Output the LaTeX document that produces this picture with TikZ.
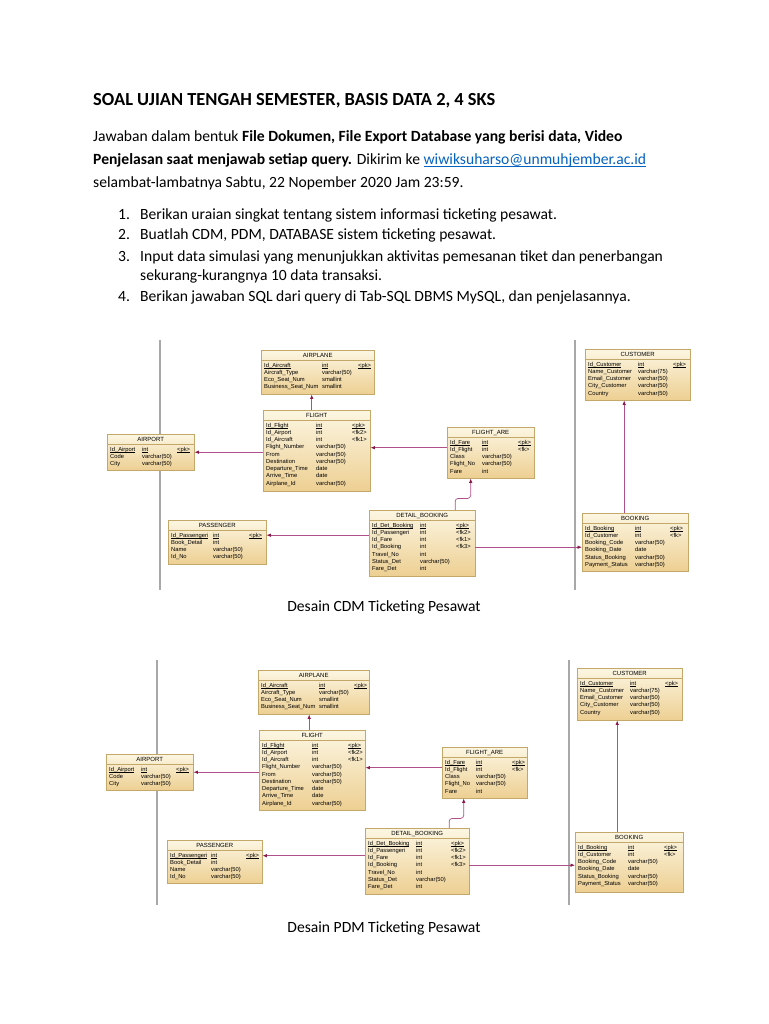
\documentclass[tikz,border=0pt]{standalone}
\usepackage{fontspec}
\setmainfont{Carlito}
\newfontfamily\erfont{Liberation Sans}
\usetikzlibrary{arrows.meta,calc,shadows}
\definecolor{relcol}{HTML}{B0508A}
\definecolor{tipcol}{HTML}{8A1848}
\definecolor{entdraw}{HTML}{C4A86A}
\definecolor{enttop}{HTML}{FCF6E2}
\definecolor{entbot}{HTML}{EDCF92}
\definecolor{linkblue}{HTML}{0563C1}
\definecolor{pagegray}{HTML}{A8A8A8}
% underline with a rule close below the baseline
\newcommand{\keyul}[1]{\leavevmode\setbox0=\hbox{#1}\rlap{\rule[-0.9pt]{\wd0}{0.35pt}}\box0}
\newcommand{\mailul}[1]{\leavevmode\setbox0=\hbox{#1}\rlap{\rule[-2pt]{\wd0}{0.7pt}}\box0}
\tikzset{
  doc/.style={anchor=base west, inner sep=0, font=\fontsize{15.6}{18}\selectfont},
  doctitle/.style={doc, font=\fontsize{18.4}{21}\selectfont\bfseries},
  caption/.style={anchor=base, inner sep=0, font=\fontsize{15.6}{18}\selectfont},
  entity/.style={draw=entdraw, top color=enttop, bottom color=entbot, inner sep=0,
    drop shadow={opacity=0.2, shadow xshift=0.8pt, shadow yshift=-0.8pt}},
  enttitle/.style={inner sep=0, font=\erfont\fontsize{6}{6}\selectfont},
  entsep/.style={draw=entdraw, line width=0.5pt},
  attr/.style={anchor=base west, inner sep=0, font=\erfont\fontsize{5.8}{6}\selectfont},
  rel/.style={draw=relcol, line width=0.7pt, -{Latex[length=4.5pt, width=3.5pt, color=tipcol]}},
  pageline/.style={draw=pagegray, line width=1.2pt},
}
% #1 name, #2 top left, #3 width, #4 height, #5 title, #6 type column, #7 key column, #8 rows
\newcommand{\erentity}[8]{%
  \node[entity, minimum width=#3, minimum height=#4, anchor=north west] (#1) at #2 {};
  \node[enttitle] (#1-title) at ($(#1.north)+(0,5.5)$) {#5};
  \draw[entsep] ($(#1.north west)+(0,10.5)$) -- ($(#1.north east)+(0,10.5)$);
  \foreach \nm/\ty/\ky [count=\i] in #8 {
    \node[attr] (#1-n\i) at ($(#1.north west)+(3,9.9+7.25*\i)$) {\nm};
    \node[attr] (#1-t\i) at ($(#1.north west)+(#6,9.9+7.25*\i)$) {\ty};
    \node[attr] (#1-k\i) at ($(#1.north west)+(#7,9.9+7.25*\i)$) {\ky};
  }
}
\def\airplanerows{\keyul{Id\_Aircraft}/\keyul{int}/\keyul{<pk>}, Aircraft\_Type/varchar(50)/{}, Eco\_Seat\_Num/smallint/{}, Business\_Seat\_Num/smallint/{}}
\def\flightrows{\keyul{Id\_Flight}/\keyul{int}/\keyul{<pk>}, Id\_Airport/int/<fk2>, Id\_Aircraft/int/<fk1>, Flight\_Number/varchar(50)/{}, From/varchar(50)/{}, Destination/varchar(50)/{}, Departure\_Time/date/{}, Arrive\_Time/date/{}, Airplane\_Id/varchar(50)/{}}
\def\farerows{\keyul{Id\_Fare}/\keyul{int}/\keyul{<pk>}, Id\_Flight/int/<fk>, Class/varchar(50)/{}, Flight\_No/varchar(50)/{}, Fare/int/{}}
\def\airportrows{\keyul{Id\_Airport}/\keyul{int}/\keyul{<pk>}, Code/varchar(50)/{}, City/varchar(50)/{}}
\def\customerrows{\keyul{Id\_Customer}/\keyul{int}/\keyul{<pk>}, Name\_Customer/varchar(75)/{}, Email\_Customer/varchar(50)/{}, City\_Customer/varchar(50)/{}, Country/varchar(50)/{}}
\def\detailrows{\keyul{Id\_Det\_Booking}/\keyul{int}/\keyul{<pk>}, Id\_Passengeri/int/<fk2>, Id\_Fare/int/<fk1>, Id\_Booking/int/<fk3>, Travel\_No/int/{}, Status\_Det/varchar(50)/{}, Fare\_Det/int/{}}
\def\passengerrows{\keyul{Id\_Passengeri}/\keyul{int}/\keyul{<pk>}, Book\_Detail/int/{}, Name/varchar(50)/{}, Id\_No/varchar(50)/{}}
\def\bookingrows{\keyul{Id\_Booking}/\keyul{int}/\keyul{<pk>}, Id\_Customer/int/<fk>, Booking\_Code/varchar(50)/{}, Booking\_Date/date/{}, Status\_Booking/varchar(50)/{}, Payment\_Status/varchar(50)/{}}

\begin{document}
\begin{tikzpicture}[x=1pt, y=-1pt]
  \fill[white] (0,0) rectangle (768,1024);
  \useasboundingbox (0,0) rectangle (768,1024);

  % question text
  \node[doctitle] (title) at (93,106) {SOAL UJIAN TENGAH SEMESTER, BASIS DATA 2, 4 SKS};
  \node[doc] (para1) at (93,142) {Jawaban dalam bentuk \textbf{File Dokumen, File Export Database yang berisi data, Video}};
  \node[doc] (para2) at (93,165) {\textbf{Penjelasan saat menjawab setiap query.} Dikirim ke \textcolor{linkblue}{\mailul{wiwiksuharso@unmuhjember.ac.id}}};
  \node[doc] (para3) at (93,188) {selambat-lambatnya Sabtu, 22 Nopember 2020 Jam 23:59.};
  \node[doc] (num1) at (118,220) {1.};
  \node[doc] (item1) at (140,220) {Berikan uraian singkat tentang sistem informasi ticketing pesawat.};
  \node[doc] (num2) at (118,240) {2.};
  \node[doc] (item2) at (140,240) {Buatlah CDM, PDM, DATABASE sistem ticketing pesawat.};
  \node[doc] (num3) at (118,261) {3.};
  \node[doc] (item3) at (140,261) {Input data simulasi yang menunjukkan aktivitas pemesanan tiket dan penerbangan};
  \node[doc] (item3b) at (140,280) {sekurang-kurangnya 10 data transaksi.};
  \node[doc] (num4) at (118,301) {4.};
  \node[doc] (item4) at (140,301) {Berikan jawaban SQL dari query di Tab-SQL DBMS MySQL, dan penjelasannya.};

  % CDM
  \draw[pageline] (160,340) -- (160,590);
  \draw[pageline] (575,340) -- (575,590);
  \erentity{cairplane}{(261,350)}{113}{44}{AIRPLANE}{61}{97}{\airplanerows}
  \erentity{cflight}{(263,410)}{107}{81}{FLIGHT}{53}{89}{\flightrows}
  \erentity{cfare}{(447,427)}{87}{51}{FLIGHT\_ARE}{35}{71}{\farerows}
  \erentity{cairport}{(107,434)}{87}{36}{AIRPORT}{35}{70}{\airportrows}
  \erentity{ccustomer}{(585,349)}{105}{51}{CUSTOMER}{53}{88}{\customerrows}
  \erentity{cdetail}{(369,510)}{106}{66}{DETAIL\_BOOKING}{51}{87}{\detailrows}
  \erentity{cpassenger}{(168,520)}{98}{44}{PASSENGER}{45}{81}{\passengerrows}
  \erentity{cbooking}{(582,513)}{106}{58}{BOOKING}{53}{88}{\bookingrows}
  \draw[rel] ([xshift=-5]cflight.north) -- ([xshift=-5]cflight.north |- cairplane.south);
  \draw[rel] (cflight.west |- cairport.east) -- (cairport.east);
  \draw[rel] ([yshift=5]cfare.west) -- ([yshift=5]cfare.west -| cflight.east);
  \draw[rel, rounded corners=3] ([xshift=33]cdetail.north) |- ([xshift=-20, yshift=-20]cfare.south) -- ([xshift=-20]cfare.south);
  \draw[rel] ([yshift=7]cpassenger.east -| cdetail.west) -- ([yshift=7]cpassenger.east);
  \draw[rel] ([yshift=-5]cbooking.west -| cdetail.east) -- ([yshift=-5]cbooking.west);
  \draw[rel] ([xshift=-11]cbooking.north) -- ([xshift=-11]cbooking.north |- ccustomer.south);
  \node[caption] (cdmcap) at (384,611) {Desain CDM Ticketing Pesawat};

  % PDM
  \draw[pageline] (157,660) -- (157,905);
  \draw[pageline] (569,660) -- (569,905);
  \erentity{pairplane}{(258,670)}{111}{44}{AIRPLANE}{61}{96}{\airplanerows}
  \erentity{pflight}{(259,730)}{106}{80}{FLIGHT}{53}{89}{\flightrows}
  \erentity{pfare}{(442,747)}{85}{51}{FLIGHT\_ARE}{34}{70}{\farerows}
  \erentity{pairport}{(106,754)}{87}{36}{AIRPORT}{35}{70}{\airportrows}
  \erentity{pcustomer}{(577,668)}{105}{52}{CUSTOMER}{53}{88}{\customerrows}
  \erentity{pdetail}{(365,828)}{104}{66}{DETAIL\_BOOKING}{51}{86}{\detailrows}
  \erentity{ppassenger}{(167,840)}{95}{43}{PASSENGER}{44}{79}{\passengerrows}
  \erentity{pbooking}{(575,832)}{108}{60}{BOOKING}{53}{89}{\bookingrows}
  \draw[rel] ([xshift=-3]pflight.north) -- ([xshift=-3]pflight.north |- pairplane.south);
  \draw[rel] (pflight.west |- pairport.east) -- (pairport.east);
  \draw[rel] ([yshift=5]pfare.west) -- ([yshift=5]pfare.west -| pflight.east);
  \draw[rel, rounded corners=3] ([xshift=32]pdetail.north) |- ([xshift=-21, yshift=-20]pfare.south) -- ([xshift=-21]pfare.south);
  \draw[rel] ([yshift=6]ppassenger.east -| pdetail.west) -- ([yshift=6]ppassenger.east);
  \draw[rel] ([yshift=-3]pbooking.west -| pdetail.east) -- ([yshift=-3]pbooking.west);
  \draw[rel] ([xshift=-12]pbooking.north) -- ([xshift=-12]pbooking.north |- pcustomer.south);
  \node[caption] (pdmcap) at (384,932) {Desain PDM Ticketing Pesawat};
\end{tikzpicture}
\end{document}
